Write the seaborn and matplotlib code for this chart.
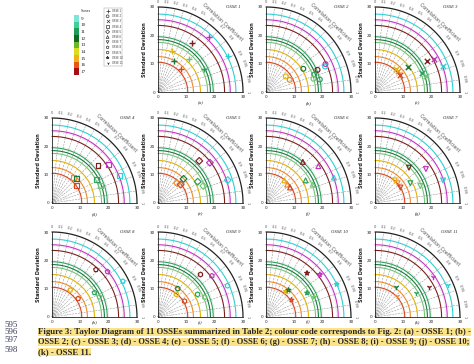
"""
Taylor diagrams for 11 OSSEs (Figure 3 reproduction).
"""
import numpy as np
import matplotlib
matplotlib.use("Agg")
import matplotlib.pyplot as plt
from matplotlib.colors import ListedColormap
import seaborn as sns

sns.set_style("white")
plt.rcParams["font.family"] = ["DejaVu Sans"]

# ---- data -------------------------------------------------------------
# reference stations (arcs): key, observed std, colour
station_keys = ["cy", "mg", "dr", "g1", "g2", "g3", "yl", "or", "rd"]
station_std = [27.5, 25.5, 23.5, 19.5, 18.5, 17.5, 15.0, 12.5, 10.5]
station_colors = ["#2ed0d6", "#c433c4", "#7d1f1f", "#2ca25f", "#157a3a",
                  "#74c476", "#e3b50a", "#f08a2a", "#d9461c"]

corr_ticks = [0, 0.1, 0.2, 0.3, 0.4, 0.5, 0.6, 0.7, 0.8, 0.9, 0.95, 0.99, 1]
std_grid = [5, 10, 15, 20, 25]
axis_ticks = [0, 10, 20, 30]

# per OSSE: stations, standard deviation, correlation
stn_osse1 = ["cy", "mg", "dr", "g1", "g2", "g3", "yl", "rd"]
std_osse1 = [27.6, 26.3, 21.0, 18.1, 12.2, 16.1, 15.2, 11.5]
cor_osse1 = [0.89, 0.68, 0.57, 0.89, 0.46, 0.69, 0.32, 0.71]

stn_osse2 = ["cy", "mg", "dr", "g1", "g2", "g3", "g1", "yl", "or"]
std_osse2 = [22.7, 23.2, 19.8, 18.1, 15.5, 17.4, 19.5, 8.9, 9.4]
cor_osse2 = [0.918, 0.905, 0.919, 0.94, 0.849, 0.963, 0.974, 0.786, 0.89]

stn_osse3 = ["mg", "dr", "cy", "g2", "g1", "g3", "or", "rd", "yl"]
std_osse3 = [23.9, 21.3, 25.8, 14.5, 17.9, 19.0, 11.1, 10.7, 11.0]
cor_osse3 = [0.87, 0.854, 0.936, 0.794, 0.924, 0.956, 0.742, 0.826, 0.684]

stn_osse4 = ["dr", "mg", "cy", "or", "g2", "rd", "g1", "g3"]
std_osse4 = [21.0, 24.0, 25.8, 11.7, 12.2, 10.8, 17.7, 18.2]
cor_osse4 = [0.773, 0.826, 0.927, 0.65, 0.703, 0.813, 0.883, 0.938]

stn_osse5 = ["dr", "mg", "cy", "or", "rd", "g1", "g3", "g2"]
std_osse5 = [20.8, 23.2, 25.9, 9.7, 10.3, 15.9, 17.1, 12.4]
cor_osse5 = [0.70, 0.79, 0.95, 0.69, 0.776, 0.881, 0.936, 0.727]

stn_osse6 = ["dr", "mg", "cy", "yl", "or", "rd", "g1", "g3"]
std_osse6 = [19.5, 22.6, 25.6, 10.3, 9.9, 10.1, 16.1, 17.7]
cor_osse6 = [0.667, 0.818, 0.936, 0.63, 0.756, 0.84, 0.868, 0.93]

stn_osse7 = ["cy", "mg", "dr", "g1", "g3", "or", "rd", "yl"]
std_osse7 = [25.3, 21.6, 17.3, 14.3, 17.1, 10.6, 10.5, 10.6]
cor_osse7 = [0.949, 0.832, 0.693, 0.872, 0.936, 0.753, 0.853, 0.658]

stn_osse8 = ["dr", "mg", "cy", "yl", "rd", "g1", "g3"]
std_osse8 = [22.8, 25.3, 28.0, 11.5, 11.3, 17.3, 18.2]
cor_osse8 = [0.68, 0.775, 0.893, 0.565, 0.817, 0.868, 0.921]

stn_osse9 = ["dr", "mg", "cy", "g2", "g1", "g3", "rd", "yl"]
std_osse9 = [21.2, 23.9, 26.9, 12.2, 16.1, 17.9, 10.9, 10.3]
cor_osse9 = [0.707, 0.795, 0.912, 0.573, 0.868, 0.921, 0.859, 0.63]

stn_osse10 = ["dr", "mg", "cy", "yl", "g1", "g3", "rd", "g2"]
std_osse10 = [21.2, 24.2, 27.5, 11.4, 16.8, 18.4, 10.8, 12.4]
cor_osse10 = [0.683, 0.785, 0.908, 0.614, 0.863, 0.925, 0.832, 0.644]

stn_osse11 = ["mg", "dr", "cy", "g2", "g1", "or"]
std_osse11 = [24.7, 21.8, 28.1, 13.0, 16.7, 10.8]
cor_osse11 = [0.825, 0.873, 0.914, 0.583, 0.864, 0.726]

osse_names = ["OSSE %d" % i for i in range(1, 12)]
panel_tags = ["(a)", "(b)", "(c)", "(d)", "(e)", "(f)", "(g)", "(h)", "(i)",
              "(j)", "(k)"]
osse_markers = ["+", "o", "x", "s", "D", "^", "v", "p", "h", "*", "1"]

# colour-bar legend
level_labels = ["9", "10", "11", "12", "13", "14", "15", "16", "17"]
level_colors = ["#7fe3d8", "#3fd09a", "#1f9d55", "#0f6a25", "#6fb52a",
                "#dcdc1e", "#efb21c", "#e8561a", "#a50f14"]

caption_lines = [
    "Figure 3: Taylor Diagram of 11 OSSEs summarized in Table 2; colour code "
    "corresponds to Fig. 2: (a) - OSSE 1; (b) -",
    "OSSE 2; (c) - OSSE 3; (d) - OSSE 4; (e) - OSSE 5; (f) - OSSE 6; (g) - "
    "OSSE 7; (h) - OSSE 8; (i) - OSSE 9; (j) - OSSE 10;",
    "(k) - OSSE 11.",
]
line_numbers = ["595", "596", "597", "598"]

stations = [stn_osse1, stn_osse2, stn_osse3, stn_osse4, stn_osse5, stn_osse6,
            stn_osse7, stn_osse8, stn_osse9, stn_osse10, stn_osse11]
stds = [std_osse1, std_osse2, std_osse3, std_osse4, std_osse5, std_osse6,
        std_osse7, std_osse8, std_osse9, std_osse10, std_osse11]
cors = [cor_osse1, cor_osse2, cor_osse3, cor_osse4, cor_osse5, cor_osse6,
        cor_osse7, cor_osse8, cor_osse9, cor_osse10, cor_osse11]

W, H = 474, 364
fig = plt.figure(figsize=(W / 100, H / 100), dpi=100)


def px_axes(x, y_top, w, h):
    return fig.add_axes([x / W, 1 - (y_top + h) / H, w / W, h / H])


def draw_taylor(ax, stn, std, cor, marker, title, tag, bottom_row):
    rmax = 30
    th = np.linspace(0, np.pi / 2, 200)
    for r in std_grid:
        ax.plot(r * np.cos(th), r * np.sin(th), color="#b5b5b5", lw=0.35,
                ls=":", clip_on=False)
    for c in corr_ticks[1:-1]:
        a = np.arccos(c)
        ax.plot([0, rmax * np.cos(a)], [0, rmax * np.sin(a)], color="#8a8a8a",
                lw=0.35, ls=(0, (4, 2)), clip_on=False)
    for c in corr_ticks:
        a = np.arccos(c)
        ax.text(31.8 * np.cos(a), 31.8 * np.sin(a), "%g" % c, fontsize=2.6,
                color="#555555", ha="center", va="center",
                rotation=np.degrees(a) - 90)
    ax.text(33.6 * np.cos(np.radians(47)), 33.6 * np.sin(np.radians(47)),
            "Correlation Coefficient", fontsize=3.4, color="#555555",
            rotation=-43, ha="center", va="center")
    for key, r, col in zip(station_keys, station_std, station_colors):
        ax.plot(r * np.cos(th), r * np.sin(th), color=col, lw=0.8,
                clip_on=False)
    ax.plot(rmax * np.cos(th), rmax * np.sin(th), color="#222222", lw=0.9,
            clip_on=False)

    cmap = dict(zip(station_keys, station_colors))
    s = np.array(std)
    c = np.array(cor)
    xs = s * c
    ys = s * np.sqrt(1 - c ** 2)
    for k, x, y in zip(stn, xs, ys):
        if marker in ["+", "x", "1"]:
            ax.scatter(x, y, marker=marker, s=15, color=cmap[k], lw=1.0,
                       zorder=5, clip_on=False)
        else:
            ax.scatter(x, y, marker=marker, s=12, facecolors="none",
                       edgecolors=cmap[k], lw=0.85, zorder=5, clip_on=False)

    ax.set_xlim(0, rmax)
    ax.set_ylim(0, rmax)
    ax.set_xticks(axis_ticks)
    ax.set_yticks(axis_ticks)
    ax.tick_params(labelsize=3, length=1.2, width=0.4, pad=1.0)
    for sp in ["top", "right"]:
        ax.spines[sp].set_visible(False)
    for sp in ["left", "bottom"]:
        ax.spines[sp].set_linewidth(0.6)
        ax.spines[sp].set_color("#222222")
    ax.set_ylabel("Standard Deviation", fontsize=3.6, fontweight="bold",
                  labelpad=2)
    ax.set_xlabel(tag, fontsize=3.5, fontstyle="italic", labelpad=1.5,
                  family="Liberation Serif")
    if bottom_row:
        ax.xaxis.set_label_coords(0.5, -0.04)
    ax.text(29, 30, title, fontsize=3.3, fontstyle="italic", ha="right",
            va="center", family="Liberation Serif")
    ax.patch.set_alpha(0)


col_x = [52, 158, 266, 375]
row_y = [92, 203, 317]
slots = [(0, 1), (0, 2), (0, 3), (1, 0), (1, 1), (1, 2), (1, 3),
         (2, 0), (2, 1), (2, 2), (2, 3)]
size = 85

for i, (r, cidx) in enumerate(slots):
    ax = px_axes(col_x[cidx], row_y[r] - size, size, size)
    draw_taylor(ax, stations[i], stds[i], cors[i], osse_markers[i],
                osse_names[i], panel_tags[i], r == 2)

# colour bar legend
cax = px_axes(73.5, 15, 5, 60)
sns.heatmap(np.arange(len(level_labels)).reshape(-1, 1), ax=cax,
            cmap=ListedColormap(level_colors), cbar=False,
            xticklabels=False, yticklabels=level_labels)
cax.yaxis.tick_right()
cax.tick_params(axis="y", labelsize=3.8, length=0, pad=1.5, rotation=0)
for lab in cax.get_yticklabels():
    lab.set_family("Liberation Serif")
cax.text(1.4, -0.25, "Stones", fontsize=2.2, ha="left", va="bottom")

# marker legend
lax = px_axes(104, 8, 18, 58)
n = len(osse_names)
for i, (m, name) in enumerate(zip(osse_markers, osse_names)):
    if m in ["+", "x", "1"]:
        lax.scatter(0.2, i, marker=m, s=5, color="#333333", lw=0.5)
    else:
        lax.scatter(0.2, i, marker=m, s=4, facecolors="none",
                    edgecolors="#333333", lw=0.5)
    lax.text(0.42, i, name, fontsize=1.8, va="center", color="#333333")
lax.set_xlim(0, 1)
lax.set_ylim(n - 0.4, -0.6)
lax.set_xticks([])
lax.set_yticks([])
for sp in lax.spines.values():
    sp.set_linewidth(0.3)
    sp.set_color("#999999")

# caption (first two lines justified to the same width) and line numbers
cap_y = [331.5, 341.6, 351.7]
cap_x0, cap_x1 = 38, 471
renderer = fig.canvas.get_renderer()
base_fs = 6.0
cap_texts = []
for txt, y in zip(caption_lines, cap_y):
    t = fig.text(cap_x0 / W, 1 - y / H, txt, fontsize=base_fs,
                 fontweight="bold", family="Liberation Serif", va="center",
                 ha="left",
                 bbox=dict(facecolor="#fbe38a", edgecolor="none", pad=0.0))
    cap_texts.append(t)
fit = []
for t in cap_texts[:2]:
    w = t.get_window_extent(renderer).width
    fit.append(base_fs * (cap_x1 - cap_x0) / w)
cap_texts[0].set_fontsize(fit[0])
cap_texts[1].set_fontsize(fit[1])
cap_texts[2].set_fontsize(fit[0])

num_y = [325, 332, 339.5, 349.5]
for txt, y in zip(line_numbers, num_y):
    fig.text(4 / W, 1 - y / H, txt, fontsize=6.5, family="Liberation Serif",
             va="center", ha="left", color="#3d3d5c")

fig.savefig("out.png", dpi=100)
